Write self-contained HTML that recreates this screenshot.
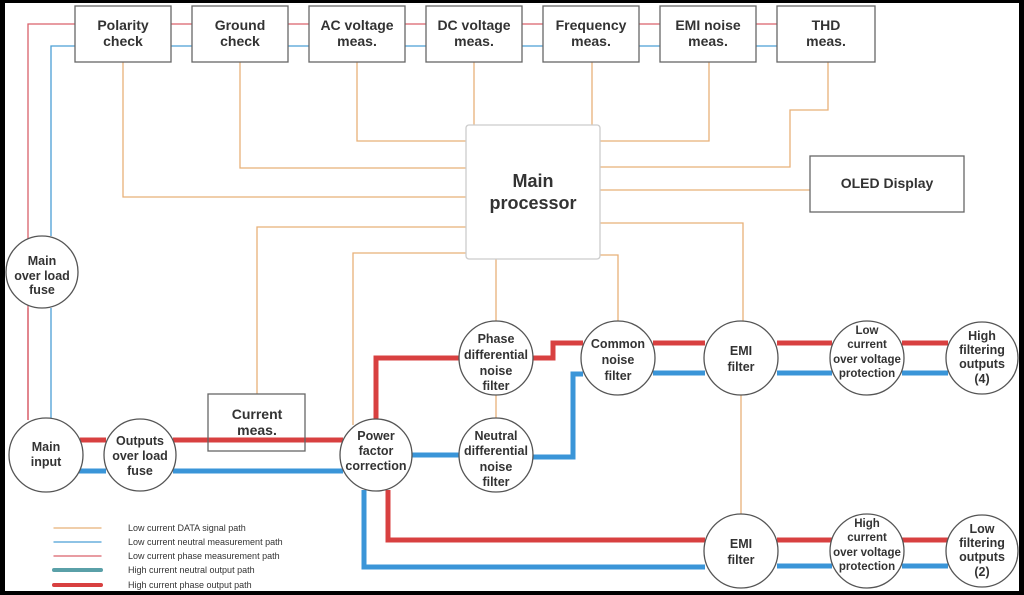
<!DOCTYPE html>
<html><head><meta charset="utf-8"><style>
body{margin:0;background:#000}
svg{display:block}
text{font-family:"Liberation Sans",Arial,sans-serif;font-weight:bold;fill:#333;text-anchor:middle}
</style></head><body>
<svg width="1024" height="595" viewBox="0 0 1024 595">
<rect x="0" y="0" width="1024" height="595" fill="#000"/>
<rect x="5" y="3" width="1014" height="588" fill="#fff"/>
<g fill="none" stroke-width="1.3">
<!-- measurement lines -->
<polyline points="28,420 28,24 75,24" stroke="#d9606a"/>
<polyline points="51,236 51,46 75,46" stroke="#4a9fd5"/>
<line x1="28" y1="308" x2="28" y2="420" stroke="#d9606a"/>
<line x1="51" y1="308" x2="51" y2="420" stroke="#4a9fd5"/>
<g stroke="#d9606a"><line x1="171" y1="24" x2="192" y2="24"/><line x1="288" y1="24" x2="309" y2="24"/><line x1="405" y1="24" x2="426" y2="24"/><line x1="522" y1="24" x2="543" y2="24"/><line x1="639" y1="24" x2="660" y2="24"/><line x1="756" y1="24" x2="777" y2="24"/></g>
<g stroke="#4a9fd5"><line x1="171" y1="46" x2="192" y2="46"/><line x1="288" y1="46" x2="309" y2="46"/><line x1="405" y1="46" x2="426" y2="46"/><line x1="522" y1="46" x2="543" y2="46"/><line x1="639" y1="46" x2="660" y2="46"/><line x1="756" y1="46" x2="777" y2="46"/></g>
<!-- data lines -->
<g stroke="#e8b078">
<polyline points="123,62 123,197 466,197"/>
<polyline points="240,62 240,168 466,168"/>
<polyline points="357,62 357,141 466,141"/>
<line x1="474" y1="62" x2="474" y2="125"/>
<line x1="592" y1="62" x2="592" y2="125"/>
<polyline points="709,62 709,141 600,141"/>
<polyline points="828,62 828,110 790,110 790,167 600,167"/>
<line x1="600" y1="190" x2="810" y2="190"/>
<polyline points="600,223 743,223 743,321"/>
<line x1="741" y1="395" x2="741" y2="514"/>
<polyline points="466,227 257,227 257,394"/>
<polyline points="466,253 353,253 353,425"/>
<line x1="496" y1="259" x2="496" y2="321"/>
<polyline points="600,255 618,255 618,321"/>
<line x1="496" y1="395" x2="496" y2="418"/>
</g>
</g>
<!-- thick paths -->
<g fill="none" stroke-width="5">
<g stroke="#d84040">
<line x1="80" y1="440" x2="106" y2="440"/>
<line x1="173" y1="440" x2="343" y2="440"/>
<polyline points="376,420 376,358 459,358"/>
<polyline points="533,358 553,358 553,343 583,343"/>
<line x1="653" y1="343" x2="705" y2="343"/>
<line x1="777" y1="343" x2="832" y2="343"/>
<line x1="902" y1="343" x2="948" y2="343"/>
<polyline points="388,490 388,540 705,540"/>
<line x1="777" y1="540" x2="832" y2="540"/>
<line x1="902" y1="540" x2="948" y2="540"/>
</g>
<g stroke="#3a95d8">
<line x1="79" y1="471" x2="106" y2="471"/>
<line x1="173" y1="471" x2="343" y2="471"/>
<line x1="412" y1="455" x2="459" y2="455"/>
<polyline points="533,457 573,457 573,374 583,374"/>
<line x1="653" y1="373" x2="705" y2="373"/>
<line x1="777" y1="373" x2="832" y2="373"/>
<line x1="902" y1="373" x2="948" y2="373"/>
<polyline points="364,490 364,567 705,567"/>
<line x1="777" y1="566" x2="832" y2="566"/>
<line x1="902" y1="566" x2="948" y2="566"/>
</g>
</g>
<!-- boxes -->
<g fill="#fff" stroke="#666" stroke-width="1.3">
<rect x="75" y="6" width="96" height="56"/>
<rect x="192" y="6" width="96" height="56"/>
<rect x="309" y="6" width="96" height="56"/>
<rect x="426" y="6" width="96" height="56"/>
<rect x="543" y="6" width="96" height="56"/>
<rect x="660" y="6" width="96" height="56"/>
<rect x="777" y="6" width="98" height="56"/>
<rect x="810" y="156" width="154" height="56"/>
<rect x="208" y="394" width="97" height="57" fill="none"/>
<rect x="466" y="125" width="134" height="134" rx="3" stroke="#ccc"/>
</g>
<line x1="210" y1="440" x2="303" y2="440" stroke="#d84040" stroke-width="5" stroke-dasharray="6,2"/>
<g fill="#fff" stroke="#555" stroke-width="1.3">
<circle cx="42" cy="272" r="36"/>
<circle cx="46" cy="455" r="37"/>
<circle cx="140" cy="455" r="36"/>
<circle cx="376" cy="455" r="36"/>
<circle cx="496" cy="358" r="37"/>
<circle cx="496" cy="455" r="37"/>
<circle cx="618" cy="358" r="37"/>
<circle cx="741" cy="358" r="37"/>
<circle cx="867" cy="358" r="37"/>
<circle cx="982" cy="358" r="36"/>
<circle cx="741" cy="551" r="37"/>
<circle cx="867" cy="551" r="37"/>
<circle cx="982" cy="551" r="36"/>
</g>
<g font-size="14">
<text x="123" y="30">Polarity</text><text x="123" y="46">check</text>
<text x="240" y="30">Ground</text><text x="240" y="46">check</text>
<text x="357" y="30">AC voltage</text><text x="357" y="46">meas.</text>
<text x="474" y="30">DC voltage</text><text x="474" y="46">meas.</text>
<text x="591" y="30">Frequency</text><text x="591" y="46">meas.</text>
<text x="708" y="30">EMI noise</text><text x="708" y="46">meas.</text>
<text x="826" y="30">THD</text><text x="826" y="46">meas.</text>
<text x="887" y="188">OLED Display</text>
<text x="257" y="419">Current</text><text x="257" y="435">meas.</text>
</g>
<text x="533" y="187" font-size="18">Main</text>
<text x="533" y="209" font-size="18">processor</text>
<g font-size="12.5">
<text x="42" y="265">Main</text><text x="42" y="280">over load</text><text x="42" y="294">fuse</text>
<text x="46" y="451">Main</text><text x="46" y="466">input</text>
<text x="140" y="445">Outputs</text><text x="140" y="460">over load</text><text x="140" y="475">fuse</text>
<text x="376" y="440">Power</text><text x="376" y="455">factor</text><text x="376" y="470">correction</text>
<text x="496" y="343">Phase</text><text x="496" y="359">differential</text><text x="496" y="375">noise</text><text x="496" y="390">filter</text>
<text x="496" y="440">Neutral</text><text x="496" y="455">differential</text><text x="496" y="471">noise</text><text x="496" y="486">filter</text>
<text x="618" y="348">Common</text><text x="618" y="364">noise</text><text x="618" y="380">filter</text>
<text x="741" y="355">EMI</text><text x="741" y="371">filter</text>
<text x="741" y="548">EMI</text><text x="741" y="564">filter</text>
<text x="982" y="340">High</text><text x="982" y="354">filtering</text><text x="982" y="368">outputs</text><text x="982" y="383">(4)</text>
<text x="982" y="533">Low</text><text x="982" y="547">filtering</text><text x="982" y="561">outputs</text><text x="982" y="576">(2)</text>
</g>
<g font-size="11.5">
<text x="867" y="334">Low</text><text x="867" y="348">current</text><text x="867" y="363">over voltage</text><text x="867" y="377">protection</text>
<text x="867" y="527">High</text><text x="867" y="541">current</text><text x="867" y="556">over voltage</text><text x="867" y="570">protection</text>
</g>
<g stroke-linecap="round">
<line x1="54" y1="528" x2="101" y2="528" stroke="#e8b078" stroke-width="1.3"/>
<line x1="54" y1="542" x2="101" y2="542" stroke="#4a9fd5" stroke-width="1.3"/>
<line x1="54" y1="556" x2="101" y2="556" stroke="#d9606a" stroke-width="1.3"/>
<line x1="54" y1="570" x2="101" y2="570" stroke="#5aa0a8" stroke-width="4"/>
<line x1="54" y1="585" x2="101" y2="585" stroke="#d84040" stroke-width="4"/>
</g>
<g font-size="9" style="font-weight:normal" text-anchor="start">
<text x="128" y="531" style="text-anchor:start;font-weight:normal">Low current DATA signal path</text>
<text x="128" y="545" style="text-anchor:start;font-weight:normal">Low current neutral measurement path</text>
<text x="128" y="559" style="text-anchor:start;font-weight:normal">Low current phase measurement path</text>
<text x="128" y="573" style="text-anchor:start;font-weight:normal">High current neutral output path</text>
<text x="128" y="588" style="text-anchor:start;font-weight:normal">High current phase output path</text>
</g>
</svg>
</body></html>
